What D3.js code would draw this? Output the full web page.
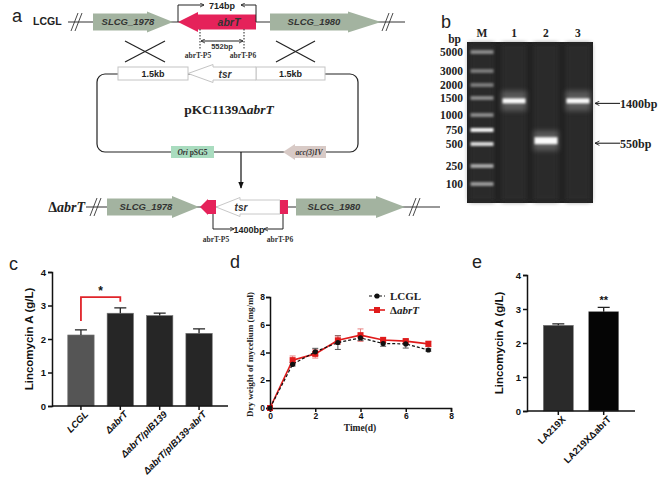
<!DOCTYPE html>
<html>
<head>
<meta charset="utf-8">
<script src="https://cdn.jsdelivr.net/npm/d3@7"></script>
<style>
  body { margin: 0; background: #fff; }
  svg { display: block; }
  .sans { font-family: "Liberation Sans", Arial, sans-serif; }
  .serif { font-family: "Liberation Serif", "Times New Roman", serif; }
</style>
</head>
<body>
<svg id="fig" width="669" height="482"></svg>
<script>
// ---- data ----
const cCats = ['LCGL', 'ΔabrT', 'ΔabrT/pIB139', 'ΔabrT/pIB139-abrT'];
const cVals = [2.12, 2.77, 2.70, 2.17];
const cErr = [0.15, 0.16, 0.07, 0.13];
const cFill = ['#555555', '#262626', '#262626', '#262626'];

const days = [0, 1, 2, 3, 4, 5, 6, 7];
const lcglDry = [0, 3.15, 4.05, 4.72, 5.05, 4.65, 4.62, 4.18];
const lcglErr = [0, 0.12, 0.25, 0.5, 0.18, 0.2, 0.3, 0.08];
const abrtDry = [0, 3.45, 3.9, 4.88, 5.25, 4.9, 4.82, 4.62];
const abrtErr = [0, 0.3, 0.3, 0.3, 0.45, 0.2, 0.18, 0.2];

const eCats = ['LA219X', 'LA219XΔabrT'];
const eVals = [2.52, 2.92];
const eErr = [0.04, 0.13];

const ladderBp = [5000, 3000, 2000, 1500, 1000, 750, 500, 250, 100];
const ladderGlow = [0.45, 0.4, 0.4, 0.45, 0.45, 0.9, 0.75, 0.55, 0.5];
const laneNames = ['M', '1', '2', '3'];
const laneBand = [null, 1400, 550, 1400];
const markedBp = [1400, 550];

const svg = d3.select('#fig');
const defs = svg.append('defs');

defs.append('marker').attr('id', 'chev')
  .attr('viewBox', '0 0 10 10').attr('refX', 9).attr('refY', 5)
  .attr('markerWidth', 5).attr('markerHeight', 5)
  .attr('orient', 'auto-start-reverse')
  .append('path').attr('d', 'M1,1L9,5L1,9')
  .attr('fill', 'none').attr('stroke', '#222').attr('stroke-width', 1.6);
defs.append('marker').attr('id', 'tri')
  .attr('viewBox', '0 0 10 10').attr('refX', 9).attr('refY', 5)
  .attr('markerWidth', 6).attr('markerHeight', 6)
  .attr('orient', 'auto')
  .append('path').attr('d', 'M0,1L10,5L0,9Z').attr('fill', '#111');
defs.append('filter').attr('id', 'blur1').attr('x', '-30%').attr('y', '-100%').attr('width', '160%').attr('height', '300%')
  .append('feGaussianBlur').attr('stdDeviation', 1.1);
defs.append('filter').attr('id', 'blur2').attr('x', '-30%').attr('y', '-200%').attr('width', '160%').attr('height', '500%')
  .append('feGaussianBlur').attr('stdDeviation', 2.5);

function panelLetter(t, x, y) {
  svg.append('text').attr('class', 'sans').attr('x', x).attr('y', y)
    .attr('font-size', 18).attr('fill', '#222').text(t);
}

// ================= panel a : construct scheme =================
const a = svg.append('g');
function gene(x0, x1, yc, bh, hh, hl, left) {
  if (!left) return `M${x0},${yc - bh}H${x1 - hl}V${yc - hh}L${x1},${yc}L${x1 - hl},${yc + hh}V${yc + bh}H${x0}Z`;
  return `M${x1},${yc - bh}H${x0 + hl}V${yc - hh}L${x0},${yc}L${x0 + hl},${yc + hh}V${yc + bh}H${x1}Z`;
}
function geneLabel(t, x, y, size) {
  a.append('text').attr('class', 'sans').attr('x', x).attr('y', y).attr('dy', '0.36em')
    .attr('text-anchor', 'middle').attr('font-size', size || 9.5)
    .attr('font-weight', 'bold').attr('font-style', 'italic').attr('fill', '#333').text(t);
}
function breakMark(x, y) {
  [-2, 2].forEach(o => a.append('line')
    .attr('x1', x + o - 4).attr('y1', y + 9).attr('x2', x + o + 3).attr('y2', y - 9)
    .attr('stroke', '#333').attr('stroke-width', 0.9));
}
const geneGreen = '#a3b3a0', red = '#e5225a';

panelLetter('a', 12, 22);
a.append('text').attr('class', 'sans').attr('x', 33).attr('y', 25)
  .attr('font-size', 10.5).attr('font-weight', 'bold').attr('fill', '#222').text('LCGL');
a.append('line').attr('x1', 68).attr('x2', 405).attr('y1', 22).attr('y2', 22).attr('stroke', '#333').attr('stroke-width', 1.2);
breakMark(77, 22); breakMark(388, 22);
a.append('path').attr('d', gene(93, 173, 22, 8.5, 10.5, 26)).attr('fill', geneGreen);
geneLabel('SLCG_1978', 128, 22);
a.append('path').attr('d', gene(178, 256, 22, 7.5, 10, 20, true)).attr('fill', red);
geneLabel('abrT', 229, 22, 10.5);
a.append('path').attr('d', gene(270, 381, 22, 8.5, 10.5, 33)).attr('fill', geneGreen);
geneLabel('SLCG_1980', 314, 22);

// 714bp bracket
a.append('path').attr('d', 'M178,22V5H204').attr('fill', 'none').attr('stroke', '#222').attr('stroke-width', 1).attr('marker-end', 'url(#chev)');
a.append('path').attr('d', 'M256,22V5H241').attr('fill', 'none').attr('stroke', '#222').attr('stroke-width', 1).attr('marker-end', 'url(#chev)');
a.append('text').attr('class', 'sans').attr('x', 222).attr('y', 8.5).attr('text-anchor', 'middle')
  .attr('font-size', 9).attr('font-weight', 'bold').attr('fill', '#222').text('714bp');
// 552bp
[200, 244].forEach(x => a.append('line').attr('x1', x).attr('x2', x).attr('y1', 29).attr('y2', 49)
  .attr('stroke', '#222').attr('stroke-dasharray', '1.5,1.5'));
a.append('line').attr('x1', 201).attr('x2', 243).attr('y1', 41).attr('y2', 41)
  .attr('stroke', '#222').attr('marker-start', 'url(#chev)').attr('marker-end', 'url(#chev)');
a.append('text').attr('class', 'sans').attr('x', 222).attr('y', 48.5).attr('text-anchor', 'middle')
  .attr('font-size', 7.5).attr('font-weight', 'bold').attr('fill', '#333').text('552bp');
[['abrT-P5', 198], ['abrT-P6', 243]].forEach(([t, x]) => a.append('text').attr('class', 'serif')
  .attr('x', x).attr('y', 57.5).attr('text-anchor', 'middle').attr('font-size', 7.5)
  .attr('font-weight', 'bold').attr('fill', '#333').text(t));

// crossover marks
[[125, 165], [276, 315]].forEach(([x0, x1]) => {
  a.append('line').attr('x1', x0).attr('y1', 41).attr('x2', x1).attr('y2', 62).attr('stroke', '#222').attr('stroke-width', 1.2);
  a.append('line').attr('x1', x0).attr('y1', 62).attr('x2', x1).attr('y2', 41).attr('stroke', '#222').attr('stroke-width', 1.2);
});

// plasmid
a.append('rect').attr('x', 97).attr('y', 74).attr('width', 261).attr('height', 78).attr('rx', 8)
  .attr('fill', 'none').attr('stroke', '#222').attr('stroke-width', 1.2);
[[118, 188], [256, 325]].forEach(([x0, x1]) => {
  a.append('rect').attr('x', x0).attr('y', 67).attr('width', x1 - x0).attr('height', 13)
    .attr('fill', '#fff').attr('stroke', '#c4c4c4');
  a.append('text').attr('class', 'sans').attr('x', (x0 + x1) / 2).attr('y', 73.5).attr('dy', '0.36em')
    .attr('text-anchor', 'middle').attr('font-size', 9).attr('font-weight', 'bold').attr('fill', '#222').text('1.5kb');
});
a.append('path').attr('d', gene(188, 256, 73.5, 6.5, 9, 25, true)).attr('fill', '#fff').attr('stroke', '#c4c4c4');
geneLabel('tsr', 225, 74, 10);
a.append('text').attr('class', 'serif').attr('x', 229).attr('y', 114).attr('text-anchor', 'middle')
  .attr('font-size', 13.5).attr('font-weight', 'bold').attr('fill', '#222')
  .call(t => { t.append('tspan').text('pKC1139Δ'); t.append('tspan').attr('font-style', 'italic').text('abrT'); });
a.append('rect').attr('x', 171).attr('y', 146).attr('width', 43).attr('height', 12).attr('fill', '#a9dcbf');
a.append('text').attr('class', 'serif').attr('x', 192.5).attr('y', 152).attr('dy', '0.36em').attr('text-anchor', 'middle')
  .attr('font-size', 7.5).attr('font-weight', 'bold').attr('fill', '#333')
  .call(t => { t.append('tspan').attr('font-style', 'italic').text('Ori'); t.append('tspan').text(' pSG5'); });
a.append('path').attr('d', gene(283, 326, 152, 6, 8, 12, true)).attr('fill', '#d8cac6');
a.append('text').attr('class', 'serif').attr('x', 309).attr('y', 152).attr('dy', '0.36em').attr('text-anchor', 'middle')
  .attr('font-size', 7.5).attr('font-weight', 'bold').attr('font-style', 'italic').attr('fill', '#333').text('acc(3)IV');
a.append('line').attr('x1', 241).attr('x2', 241).attr('y1', 152).attr('y2', 188)
  .attr('stroke', '#111').attr('stroke-width', 1.2).attr('marker-end', 'url(#tri)');

// mutant locus
a.append('text').attr('class', 'serif').attr('x', 85).attr('y', 212).attr('text-anchor', 'end')
  .attr('font-size', 14).attr('font-weight', 'bold').attr('fill', '#222')
  .call(t => { t.append('tspan').text('Δ'); t.append('tspan').attr('font-style', 'italic').text('abrT'); });
a.append('line').attr('x1', 86).attr('x2', 440).attr('y1', 207).attr('y2', 207).attr('stroke', '#333').attr('stroke-width', 1.2);
breakMark(96, 207); breakMark(415, 207);
a.append('path').attr('d', gene(107, 199, 207, 8.5, 11, 27)).attr('fill', geneGreen);
geneLabel('SLCG_1978', 146, 207);
a.append('path').attr('d', gene(200, 216, 207, 7, 8, 8, true)).attr('fill', red);
a.append('path').attr('d', gene(216, 280, 207, 7, 9.5, 24, true)).attr('fill', '#fff').attr('stroke', '#c8c8c8');
geneLabel('tsr', 241, 207, 10);
a.append('rect').attr('x', 280).attr('y', 200).attr('width', 8).attr('height', 14).attr('fill', red);
a.append('path').attr('d', gene(296, 405, 207, 8.5, 11, 29)).attr('fill', geneGreen);
geneLabel('SLCG_1980', 334, 207);
a.append('path').attr('d', 'M213,214V229H234').attr('fill', 'none').attr('stroke', '#222').attr('marker-end', 'url(#chev)');
a.append('path').attr('d', 'M283,214V229H264').attr('fill', 'none').attr('stroke', '#222').attr('marker-end', 'url(#chev)');
a.append('text').attr('class', 'sans').attr('x', 249).attr('y', 232.5).attr('text-anchor', 'middle')
  .attr('font-size', 9).attr('font-weight', 'bold').attr('fill', '#222').text('1400bp');
[['abrT-P5', 216], ['abrT-P6', 280]].forEach(([t, x]) => a.append('text').attr('class', 'serif')
  .attr('x', x).attr('y', 241.5).attr('text-anchor', 'middle').attr('font-size', 7.5)
  .attr('font-weight', 'bold').attr('fill', '#333').text(t));

// ================= panel b : gel =================
const b = svg.append('g');
const gel = { x0: 467, x1: 593, y0: 42, y1: 203 };
const gy = d3.scaleLog().domain(ladderBp).range([52, 71, 85, 98, 115, 130, 144, 166, 184]);
const lane = d3.scaleBand().domain(laneNames).range([gel.x0, gel.x1]).paddingInner(0.22).paddingOuter(0.08);

panelLetter('b', 441, 28);
b.append('rect').attr('x', gel.x0).attr('y', gel.y0).attr('width', gel.x1 - gel.x0).attr('height', gel.y1 - gel.y0).attr('fill', '#222');
// faint lane smears
b.selectAll('.smear').data(laneNames).join('rect')
  .attr('x', d => lane(d)).attr('y', gel.y0 + 2).attr('width', lane.bandwidth()).attr('height', gel.y1 - gel.y0 - 4)
  .attr('fill', '#2c2c2c').attr('filter', 'url(#blur2)');
b.selectAll('.ladder').data(ladderBp).join('rect')
  .attr('x', lane('M') + 1).attr('width', lane.bandwidth() - 2)
  .attr('y', d => gy(d) - 2).attr('height', 4)
  .attr('fill', (d, i) => d3.interpolateGreys(1 - ladderGlow[i]))
  .attr('filter', 'url(#blur1)');
const bands = laneNames.map((n, i) => ({ n, bp: laneBand[i] })).filter(d => d.bp);
b.selectAll('.glow').data(bands).join('rect')
  .attr('x', d => lane(d.n)).attr('width', lane.bandwidth())
  .attr('y', d => gy(d.bp) - 10).attr('height', 20)
  .attr('fill', '#888').attr('opacity', 0.5).attr('filter', 'url(#blur2)');
b.selectAll('.band').data(bands).join('rect')
  .attr('x', d => lane(d.n) + 1).attr('width', lane.bandwidth() - 2)
  .attr('y', d => gy(d.bp) - (d.bp < 1000 ? 3.5 : 2.5)).attr('height', d => d.bp < 1000 ? 7 : 5)
  .attr('fill', '#fafafa').attr('filter', 'url(#blur1)');
b.selectAll('.lname').data(laneNames).join('text').attr('class', 'serif')
  .attr('x', d => lane(d) + lane.bandwidth() / 2).attr('y', 37).attr('text-anchor', 'middle')
  .attr('font-size', 11.5).attr('font-weight', 'bold').attr('fill', '#222').text(d => d);
b.append('text').attr('class', 'serif').attr('x', 461).attr('y', 43).attr('text-anchor', 'end')
  .attr('font-size', 11.5).attr('font-weight', 'bold').attr('fill', '#222').text('bp');
b.selectAll('.blab').data(ladderBp).join('text').attr('class', 'serif')
  .attr('x', 463).attr('y', d => gy(d)).attr('dy', '0.36em').attr('text-anchor', 'end')
  .attr('font-size', 11.5).attr('font-weight', 'bold').attr('fill', '#222').text(d => d);
markedBp.forEach(bp => {
  const y = gy(bp) + 2.5;
  b.append('line').attr('x1', 620).attr('x2', 595).attr('y1', y).attr('y2', y)
    .attr('stroke', '#222').attr('stroke-width', 1.1).attr('marker-end', 'url(#chev)');
  b.append('text').attr('class', 'serif').attr('x', 620).attr('y', y).attr('dy', '0.36em')
    .attr('font-size', 12).attr('font-weight', 'bold').attr('fill', '#222').text(bp + 'bp');
});

// ================= shared axis styling =================
function styleAxis(g, size) {
  g.selectAll('path, line').attr('stroke', '#111').attr('stroke-width', 1.5);
  g.selectAll('text').attr('class', 'sans').attr('font-size', size).attr('font-weight', 'bold').attr('fill', '#111');
}
function barPanel(opt) {
  const g = svg.append('g');
  const x = d3.scaleBand().domain(opt.cats).range([opt.x0, opt.x1]).paddingInner(opt.pi).paddingOuter(opt.po);
  const y = d3.scaleLinear().domain([0, 4]).range([opt.y0, opt.y1]);
  g.selectAll('.bar').data(opt.cats).join('rect')
    .attr('x', d => x(d)).attr('width', x.bandwidth())
    .attr('y', (d, i) => y(opt.vals[i])).attr('height', (d, i) => y(0) - y(opt.vals[i]))
    .attr('fill', (d, i) => opt.fill[i]).attr('stroke', '#777').attr('stroke-width', 0.6);
  g.selectAll('.err').data(opt.cats).join('path')
    .attr('d', (d, i) => {
      const cx = x(d) + x.bandwidth() / 2, top = y(opt.vals[i] + opt.err[i]);
      return `M${cx},${y(opt.vals[i])}V${top}M${cx - 6},${top}H${cx + 6}`;
    })
    .attr('stroke', '#222').attr('stroke-width', 1.3).attr('fill', 'none');
  g.append('g').attr('transform', `translate(${opt.x0},0)`)
    .call(d3.axisLeft(y).ticks(4).tickSize(4).tickPadding(2).tickFormat(d3.format('d')))
    .call(s => styleAxis(s, 9.5));
  g.append('line').attr('x1', opt.x0).attr('x2', opt.x1).attr('y1', y(0)).attr('y2', y(0))
    .attr('stroke', '#111').attr('stroke-width', 1.5);
  g.selectAll('.xt').data(opt.cats).join('line')
    .attr('x1', d => x(d) + x.bandwidth() / 2).attr('x2', d => x(d) + x.bandwidth() / 2)
    .attr('y1', y(0)).attr('y2', y(0) + 4).attr('stroke', '#111').attr('stroke-width', 1.5);
  g.selectAll('.xl').data(opt.cats).join('text').attr('class', 'sans')
    .attr('transform', d => `translate(${x(d) + x.bandwidth() / 2 + 8},${y(0) + 9}) rotate(-45)`)
    .attr('text-anchor', 'end').attr('font-size', 9.5).attr('font-weight', 'bold')
    .attr('font-style', opt.italic ? 'italic' : 'normal').attr('fill', '#111').text(d => d);
  g.append('text').attr('class', 'sans')
    .attr('transform', `translate(${opt.labX},${(opt.y0 + opt.y1) / 2}) rotate(-90)`)
    .attr('text-anchor', 'middle').attr('font-size', 11.5).attr('font-weight', 'bold').attr('fill', '#111')
    .text('Lincomycin A  (g/L)');
  return { g, x, y };
}

// ================= panel c =================
panelLetter('c', 9, 270);
const pc = barPanel({ cats: cCats, vals: cVals, err: cErr, fill: cFill,
  x0: 52, x1: 228, y0: 406, y1: 272, pi: 0.33, po: 0.4, labX: 33, italic: true });
{
  const cx = i => pc.x(cCats[i]) + pc.x.bandwidth() / 2;
  const top = pc.y(3.25);
  pc.g.append('path')
    .attr('d', `M${cx(0)},${pc.y(cVals[0] + cErr[0]) - 9}V${top}H${cx(1)}V${pc.y(cVals[1] + cErr[1]) - 6}`)
    .attr('fill', 'none').attr('stroke', '#e0242a').attr('stroke-width', 1.8);
  pc.g.append('text').attr('class', 'sans').attr('x', (cx(0) + cx(1)) / 2).attr('y', top - 2)
    .attr('text-anchor', 'middle').attr('font-size', 12).attr('font-weight', 'bold').attr('fill', '#111').text('*');
}

// ================= panel e =================
panelLetter('e', 472, 268);
const pe = barPanel({ cats: eCats, vals: eVals, err: eErr, fill: ['#2a2a2a', '#050505'],
  x0: 527, x1: 635, y0: 411, y1: 275, pi: 0.34, po: 0.36, labX: 503, italic: false });
pe.g.append('text').attr('class', 'sans')
  .attr('x', pe.x(eCats[1]) + pe.x.bandwidth() / 2).attr('y', pe.y(eVals[1] + eErr[1]) - 3)
  .attr('text-anchor', 'middle').attr('font-size', 11).attr('font-weight', 'bold').attr('fill', '#111').text('**');

// ================= panel d : growth curves =================
panelLetter('d', 230, 268);
const d = svg.append('g');
const dx = d3.scaleLinear().domain([0, 8]).range([270, 451]);
const dy = d3.scaleLinear().domain([0, 8]).range([408, 297]);
d.append('g').attr('transform', 'translate(0,408)')
  .call(d3.axisBottom(dx).ticks(4).tickSize(4).tickPadding(1))
  .call(s => styleAxis(s, 8.5));
d.append('g').attr('transform', 'translate(270,0)')
  .call(d3.axisLeft(dy).ticks(4).tickSize(4).tickPadding(1))
  .call(s => styleAxis(s, 8.5));
d.append('text').attr('class', 'serif').attr('x', 360).attr('y', 431).attr('text-anchor', 'middle')
  .attr('font-size', 9.5).attr('font-weight', 'bold').attr('fill', '#222').text('Time(d)');
d.append('text').attr('class', 'serif')
  .attr('transform', `translate(253,${(408 + 297) / 2 + 2}) rotate(-90)`)
  .attr('text-anchor', 'middle').attr('font-size', 9).attr('font-weight', 'bold').attr('fill', '#222')
  .text('Dry weight of mycelium (mg/ml)');

const series = [
  { name: 'LCGL', vals: lcglDry, err: lcglErr, color: '#111', ecol: '#555', dash: '3,2', shape: 'circle' },
  { name: 'ΔabrT', vals: abrtDry, err: abrtErr, color: '#e01b1b', ecol: '#e88080', dash: null, shape: 'square' }
];
const line = d3.line().x((v, i) => dx(days[i])).y(v => dy(v));
series.forEach(s => {
  d.append('g').selectAll('path').data(days).join('path')
    .attr('d', (t, i) => {
      const cx = dx(t), lo = dy(s.vals[i] - s.err[i]), hi = dy(s.vals[i] + s.err[i]);
      return `M${cx},${lo}V${hi}M${cx - 3},${hi}H${cx + 3}M${cx - 3},${lo}H${cx + 3}`;
    })
    .attr('stroke', s.ecol).attr('stroke-width', 1).attr('fill', 'none');
});
// black series drawn on top of red line like the original
[series[1], series[0]].forEach(s => {
  d.append('path').datum(s.vals).attr('d', line).attr('fill', 'none')
    .attr('stroke', s.color).attr('stroke-width', s.dash ? 1.2 : 1.6)
    .attr('stroke-dasharray', s.dash);
  const m = d.append('g').selectAll('.m').data(s.vals).join(s.shape === 'circle' ? 'circle' : 'rect');
  if (s.shape === 'circle') {
    m.attr('cx', (v, i) => dx(days[i])).attr('cy', v => dy(v)).attr('r', 2.6).attr('fill', s.color);
  } else {
    m.attr('x', (v, i) => dx(days[i]) - 3).attr('y', v => dy(v) - 3).attr('width', 6).attr('height', 6).attr('fill', s.color);
  }
});
// legend
const leg = d.append('g');
series.forEach((s, i) => {
  const y = 296 + i * 14;
  leg.append('line').attr('x1', 369).attr('x2', 385).attr('y1', y).attr('y2', y)
    .attr('stroke', s.color).attr('stroke-width', s.dash ? 1.2 : 1.6).attr('stroke-dasharray', s.dash);
  if (s.shape === 'circle') leg.append('circle').attr('cx', 377).attr('cy', y).attr('r', 2.6).attr('fill', s.color);
  else leg.append('rect').attr('x', 374).attr('y', y - 3).attr('width', 6).attr('height', 6).attr('fill', s.color);
  leg.append('text').attr('class', 'serif').attr('x', 390).attr('y', y).attr('dy', '0.36em')
    .attr('font-size', 11).attr('font-weight', 'bold').attr('fill', '#222')
    .call(t => {
      if (s.name === 'LCGL') t.text('LCGL');
      else { t.append('tspan').text('Δ'); t.append('tspan').attr('font-style', 'italic').text('abrT'); }
    });
});
</script>
</body>
</html>
